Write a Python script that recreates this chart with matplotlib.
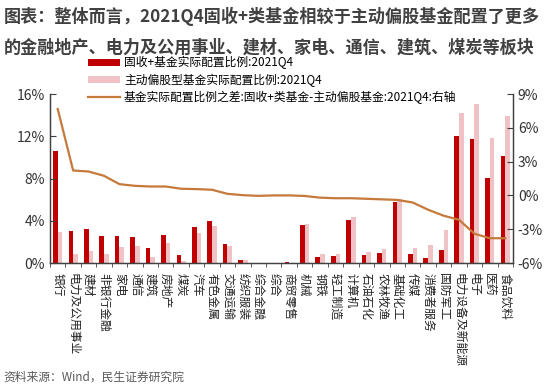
import matplotlib
matplotlib.use('Agg')
import matplotlib.pyplot as plt
import numpy as np
from matplotlib.ticker import FuncFormatter

plt.rcParams['font.family'] = ['Noto Sans CJK SC', 'DejaVu Sans']
plt.rcParams['axes.unicode_minus'] = False

# data
industries = ['银行', '电力及公用事业', '建材', '非银行金融', '家电', '通信', '建筑', '房地产',
              '煤炭', '汽车', '有色金属', '交通运输', '纺织服装', '综合金融', '综合', '商贸零售',
              '机械', '钢铁', '轻工制造', '计算机', '石油石化', '农林牧渔', '基础化工', '传媒',
              '消费者服务', '国防军工', '电力设备及新能源', '电子', '医药', '食品饮料']
fixed_plus = [10.57, 3.03, 3.25, 2.56, 2.52, 2.46, 1.42, 2.65, 0.73, 3.44, 4.00, 1.77, 0.32, 0.0,
              0.0, 0.08, 3.56, 0.57, 0.63, 4.04, 0.73, 0.95, 5.77, 0.85, 0.50, 1.26, 12.05, 11.73,
              8.08, 10.09]
active_equity = [2.90, 0.88, 1.14, 0.82, 1.51, 1.58, 0.60, 1.86, 0.22, 2.87, 3.53, 1.64, 0.28, 0.0,
                 0.0, 0.03, 3.69, 0.85, 0.88, 4.35, 1.04, 1.32, 6.09, 1.42, 1.70, 3.12, 14.20,
                 15.08, 11.86, 13.90]
diff = [7.67, 2.21, 2.12, 1.74, 1.00, 0.85, 0.79, 0.79, 0.59, 0.56, 0.50, 0.14, 0.02, -0.04,
        0.0, 0.0, -0.05, -0.20, -0.25, -0.25, -0.30, -0.35, -0.40, -0.63, -1.27, -1.80, -2.16,
        -3.40, -3.80, -3.80]

RED = '#C00000'
PINK = '#F0C2C5'
BROWN = '#C5793A'
GRAY = '#595959'

fig = plt.figure(figsize=(5.5, 3.87), dpi=100)
ax = fig.add_axes([0.0909, 0.3204, 0.8418, 0.4367])
ax2 = ax.twinx()

x = np.arange(len(industries))
w = 0.3
b1 = ax.bar(x - w / 2, fixed_plus, width=w, color=RED, label='固收+基金实际配置比例:2021Q4')
b2 = ax.bar(x + w / 2, active_equity, width=w, color=PINK, label='主动偏股型基金实际配置比例:2021Q4')
l1, = ax2.plot(x, diff, color=BROWN, lw=1.6, label='基金实际配置比例之差:固收+类基金-主动偏股基金:2021Q4:右轴')

ax.set_xlim(-0.5, len(industries) - 0.5)
ax.set_ylim(0, 16)
ax.set_yticks([0, 4, 8, 12, 16])
ax.yaxis.set_major_formatter(FuncFormatter(lambda v, p: f'{v:.0f}%'))
ax2.set_ylim(-6, 9)
ax2.set_yticks([-6, -3, 0, 3, 6, 9])
ax2.yaxis.set_major_formatter(FuncFormatter(lambda v, p: f'{v:.0f}%'))

ax.set_xticks(x)
ax.set_xticklabels(industries, rotation=-90, fontsize=8.5, color='#222222', va='top', ha='center')
ax.set_xticks(np.arange(-0.5, len(industries)), minor=True)
ax.tick_params(axis='x', which='major', length=0, pad=7)
ax.tick_params(axis='x', which='minor', length=3, direction='out', color='#404040')
ax.tick_params(axis='y', direction='in', length=4, labelsize=10, color='#404040', labelcolor='#333333')
ax2.tick_params(axis='y', direction='in', length=4, labelsize=10, color='#404040', labelcolor='#333333')

for a in (ax, ax2):
    a.spines['top'].set_visible(False)
    for s in ('left', 'right', 'bottom'):
        a.spines[s].set_color('#404040')
        a.spines[s].set_linewidth(0.9)

fig.legend(handles=[b1, b2, l1], loc='upper left', bbox_to_anchor=(0.16, 0.855),
           frameon=False, fontsize=8.5, handlelength=2.7, handleheight=0.5,
           handletextpad=0.35, labelspacing=0.35, borderaxespad=0, borderpad=0)

fig.text(0.007, 0.957, '图表：整体而言，2021Q4固收+类基金相较于主动偏股基金配置了更多',
         fontsize=12.3, fontweight='bold', color='#404040', va='center', ha='left')
fig.text(0.007, 0.878, '的金融地产、电力及公用事业、建材、家电、通信、建筑、煤炭等板块',
         fontsize=12.3, fontweight='bold', color='#404040', va='center', ha='left')
fig.text(0.007, 0.025, '资料来源：Wind，民生证券研究院', fontsize=8.5, color=GRAY,
         va='center', ha='left')

fig.savefig('out.png', dpi=100)
